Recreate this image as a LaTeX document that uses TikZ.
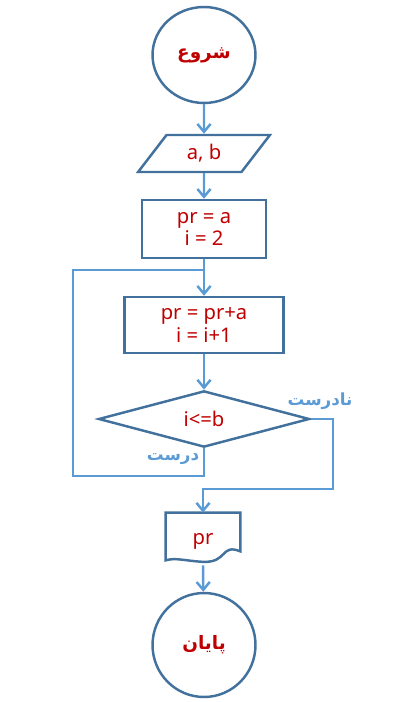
\documentclass[tikz,border=0pt]{standalone}
\usepackage{fontspec}
\setmainfont{Noto Sans}
\newfontfamily\farsi[Script=Arabic]{DejaVu Sans}
\TeXXeTstate=1
\usetikzlibrary{arrows.meta, shapes.geometric}

\definecolor{edgeblue}{HTML}{41719C}
\definecolor{flowblue}{HTML}{5B9BD5}
\definecolor{textred}{HTML}{C00000}

\begin{document}
\begin{tikzpicture}[x=0.02cm, y=-0.02cm,
    >={Straight Barb[length=4.5pt, width=7.5pt]},
    box/.style={draw=edgeblue, line width=1.4pt, fill=white, text=textred,
        font=\fontsize{11.5}{13}\selectfont, align=center, inner sep=0pt},
    terminal/.style={box, ellipse, minimum width=2.06cm, font=\bfseries\fontsize{10.5}{13}\selectfont},
    flow/.style={draw=flowblue, line width=1.4pt},
    branch/.style={text=flowblue, font=\bfseries\fontsize{9.5}{13}\selectfont}]
    \useasboundingbox (0,0) rectangle (400,702);

    \node[terminal, minimum height=1.92cm] (start) at (204,55) {\farsi\beginR شروع\endR};
    \node[box, trapezium, trapezium left angle=54, trapezium right angle=126,
        trapezium stretches=true, minimum width=2.64cm, minimum height=0.74cm] (input) at (204,153.5) {a, b};
    \node[box, rectangle, minimum width=2.48cm, minimum height=1.16cm] (init) at (204,229) {pr = a\\i = 2};
    \node[box, rectangle, minimum width=3.18cm, minimum height=1.12cm] (body) at (204,325) {pr = pr+a\\i = i+1};
    \node[box, diamond, minimum width=4.22cm, minimum height=1.08cm] (cond) at (204,419) {i<=b};
    \node[rectangle, minimum width=1.48cm, minimum height=0.9cm, inner sep=0pt] (out) at (203,535.5) {};
    \node[terminal, minimum height=2.08cm] (stop) at (204,645) {\farsi\beginR پایان\endR};

    % document shape for the output
    \draw[edgeblue, line width=1.4pt, fill=white] (out.north west) -- (out.north east)
        -- ([yshift=0.14cm]out.south east)
        .. controls +(-20,-8) and +(25,1) .. ([yshift=-0.07cm]out.south)
        .. controls +(-18,-1) and +(10,-3) .. ([yshift=-0.04cm]out.south west) -- cycle;
    \node[text=textred, font=\fontsize{11.5}{13}\selectfont] (outtext) at ([yshift=-0.12cm]out.center) {pr};

    \coordinate (merge) at (204,270);
    \coordinate (back) at (73,476);
    \coordinate (skip) at (333,489);

    \draw[flow, ->] (start) -- (input);
    \draw[flow, ->] (input) -- (init);
    \draw[flow, ->] (init) -- (body);
    \draw[flow, ->] (body) -- (cond);
    \draw[flow] (cond.south) |- (back) |- (merge);
    \draw[flow, ->] (cond.east) -| (skip) -| (out.north);
    \draw[flow, ->] ([yshift=-0.14cm]out.south) -- (stop);

    \node[branch] (no) at (320,401) {\farsi\beginR نادرست\endR};
    \node[branch] (yes) at (173,459) {\farsi\beginR درست\endR};
\end{tikzpicture}
\end{document}
